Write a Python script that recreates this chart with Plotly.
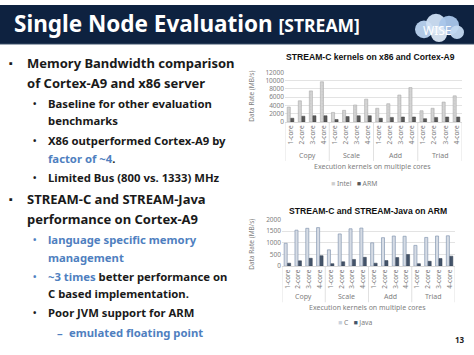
import plotly.graph_objects as go

W, H = 474, 355

group_names = ["Copy", "Scale", "Add", "Triad"]
core_names = ["1-core", "2-core", "3-core", "4-core"]
groups = [g for g in group_names for _ in core_names]
cores = core_names * len(group_names)

intel = [3600, 5100, 7500, 9700, 2300, 2800, 4100, 5500,
         3300, 4400, 6500, 8300, 2700, 3300, 4800, 6300]
arm = [900, 1400, 1500, 1500, 600, 1300, 1500, 1500,
       900, 1100, 1200, 1200, 800, 1100, 1200, 1200]

c_vals = [980, 1540, 1620, 1650, 700, 1380, 1600, 1630,
          1000, 1220, 1290, 1280, 890, 1230, 1290, 1300]
java_vals = [130, 230, 340, 450, 110, 190, 290, 380,
             130, 240, 370, 500, 110, 210, 330, 430]

y1_ticks = [0, 2000, 4000, 6000, 8000, 10000, 12000]
y2_ticks = [0, 500, 1000, 1500, 2000]

keys = [f"{g} {c}" for g, c in zip(groups, cores)]


def px(x):
    return x / W


def py(y):
    return 1 - y / H


fig = go.Figure()
fig.add_trace(go.Bar(x=keys, y=intel, name="Intel",
                     marker=dict(color="#d6d6d6", line=dict(color="#ababab", width=0.6),
                                 pattern=dict(shape=".", fgcolor="#bcbcbc", size=3, solidity=0.3)),
                     xaxis="x", yaxis="y"))
fig.add_trace(go.Bar(x=keys, y=arm, name="ARM",
                     marker=dict(color="#595959", line=dict(color="#404040", width=0.5)),
                     xaxis="x", yaxis="y"))
fig.add_trace(go.Bar(x=keys, y=c_vals, name="C",
                     marker=dict(color="#d6dce5", line=dict(color="#8497b0", width=0.7)),
                     xaxis="x2", yaxis="y2"))
fig.add_trace(go.Bar(x=keys, y=java_vals, name="Java",
                     marker=dict(color="#44546a", line=dict(color="#333f50", width=0.5)),
                     xaxis="x2", yaxis="y2"))

tickfont = dict(family="Noto Sans", size=6.5, color="#808080")
axcommon = dict(showgrid=False, tickangle=-90, tickfont=tickfont, type="category",
                tickvals=keys, ticktext=cores, range=[-0.5, len(keys) - 0.5],
                showline=True, linecolor="#d9d9d9", linewidth=0.8,
                ticks="", fixedrange=True)
yaxcommon = dict(showgrid=True, gridcolor="#e3e3e3", gridwidth=0.8, zeroline=False,
                 tickfont=tickfont, showline=False, ticks="", fixedrange=True,
                 tickformat="d")

fig.update_layout(
    width=W, height=H,
    margin=dict(l=0, r=0, t=0, b=0),
    paper_bgcolor="white", plot_bgcolor="white",
    barmode="group", bargap=0.36, bargroupgap=0.12,
    showlegend=False,
    xaxis=dict(domain=[px(285), px(462)], anchor="y", **axcommon),
    yaxis=dict(domain=[py(120), py(69)], anchor="x", range=[0, 12000],
               tickvals=y1_ticks, **yaxcommon),
    xaxis2=dict(domain=[px(282), px(455)], anchor="y2", **axcommon),
    yaxis2=dict(domain=[py(268), py(220)], anchor="x2", range=[0, 2000],
                tickvals=y2_ticks, **yaxcommon),
)

shapes = []
# header band
shapes.append(dict(type="rect", xref="paper", yref="paper", x0=0, x1=1, y0=py(40), y1=1,
                   fillcolor="#0e2240", line=dict(width=0), layer="below"))
shapes.append(dict(type="line", xref="paper", yref="paper", x0=0, x1=1, y0=py(40), y1=py(40),
                   line=dict(color="#3a4e68", width=1)))
# logo cloud
for (cx, cy, r, col) in [(424, 25, 9, "#b9d3ef"), (436, 19, 10, "#cfe0f4"), (449, 21, 10, "#a9c6ea"),
                         (457, 28, 7, "#c4d9f1"), (439, 30, 8, "#dbe8f6")]:
    shapes.append(dict(type="circle", xref="paper", yref="paper",
                       x0=px(cx - r), x1=px(cx + r), y0=py(cy + r), y1=py(cy - r),
                       fillcolor=col, line=dict(width=0), opacity=0.95))

# category group dividers (between kernel groups)
for xa, y_top, y_bot in [("x", 120, 160), ("x2", 268, 305)]:
    for k in range(len(group_names) + 1):
        shapes.append(dict(type="line", xref=xa, yref="paper",
                           x0=k * len(core_names) - 0.5, x1=k * len(core_names) - 0.5,
                           y0=py(y_top), y1=py(y_bot),
                           line=dict(color="#d9d9d9", width=0.8)))
fig.update_layout(shapes=shapes)

ann = []


def text(x, y, s, size, color="#1a1a1a", bold=True, anchor="left", family="Noto Sans", xref="paper"):
    ann.append(dict(xref=xref, yref="paper", x=px(x) if xref == "paper" else x, y=py(y), text=s,
                    showarrow=False, xanchor=anchor, yanchor="middle",
                    font=dict(family=family, size=size, color=color,
                              weight="bold" if bold else "normal")))


BLUE = "#4f7fbf"
text(12, 19, "Single Node Evaluation <span style='font-size:17.5px'>[STREAM]</span>", 22.5, "white", True)
text(437, 26, "WISE", 12, "white", False, "center")

# left bullets
MS = 13
SS = 11.3
text(7, 59, "▪", 11)
text(25, 59, "Memory Bandwidth comparison", MS)
text(25, 80, "of Cortex-A9 and x86 server", MS)
text(31, 101, "•", 9)
text(46, 101, "Baseline for other evaluation", SS)
text(46, 119, "benchmarks", SS)
text(31, 139, "•", 9)
text(46, 139, "X86 outperformed Cortex-A9 by", SS)
text(46, 157, f"<span style='color:{BLUE}'>factor of ~4</span>.", SS)
text(31, 177, "•", 9)
text(46, 177, "Limited Bus (800 vs. 1333) MHz", SS)
text(7, 199, "▪", 11)
text(25, 199, "STREAM-C and STREAM-Java", MS)
text(25, 220, "performance on Cortex-A9", MS)
text(31, 241, "•", 9, BLUE)
text(46, 241, "language specific memory", SS, BLUE)
text(46, 259, "management", SS, BLUE)
text(31, 279, "•", 9, BLUE)
text(46, 279, f"<span style='color:{BLUE}'>~3 times</span> better performance on", SS)
text(46, 296, "C based implementation.", SS)
text(31, 316, "•", 9)
text(46, 316, "Poor JVM support for ARM", SS)
text(55, 336, "–", SS, BLUE)
text(67, 336, "emulated floating point", SS, BLUE)

# chart titles
text(370, 53, "STREAM-C kernels on x86 and Cortex-A9", 8.6, "#111111", True, "center", "Liberation Sans")
text(368, 211, "STREAM-C and STREAM-Java on ARM", 8.6, "#111111", True, "center", "Liberation Sans")

# group labels under the category ticks
for xa, yg in [("x", 154), ("x2", 299)]:
    for gi, g in enumerate(group_names):
        ann.append(dict(xref=xa, yref="paper", x=gi * len(core_names) + (len(core_names) - 1) / 2,
                        y=py(yg), text=g, showarrow=False, xanchor="center", yanchor="middle",
                        font=dict(family="Noto Sans", size=7, color="#808080")))

# axis titles
for (x, y) in [(252, 93), (252, 245)]:
    ann.append(dict(xref="paper", yref="paper", x=px(x), y=py(y), text="Data Rate (MB/s)",
                    showarrow=False, textangle=-90, xanchor="center", yanchor="middle",
                    font=dict(family="Noto Sans", size=6.5, color="#808080")))
text(372, 166, "Execution kernels on multiple cores", 7, "#808080", False, "center")
text(367, 310, "Execution kernels on multiple cores", 7, "#808080", False, "center")

# legends
text(354, 183, "<span style='color:#cfcfcf'>■</span> Intel   <span style='color:#595959'>■</span> ARM",
     6.8, "#808080", False, "center")
text(355, 326, "<span style='color:#c9d2de'>■</span> C   <span style='color:#44546a'>■</span> Java",
     6.8, "#808080", False, "center")

text(460, 343, "13", 8, "#222222", True, "center")

fig.update_layout(annotations=ann)
fig.write_html("out.html", config={"displayModeBar": False},
               post_script="document.body.style.margin='0';document.body.style.overflow='hidden';")
